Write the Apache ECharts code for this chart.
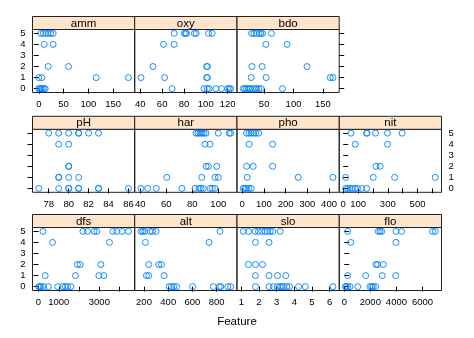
<!DOCTYPE html>
<html>
<head>
<meta charset="utf-8">
<script src="https://cdn.jsdelivr.net/npm/echarts@6/dist/echarts.min.js"></script>
<style>html,body{margin:0;padding:0;background:#fff}#c{width:474px;height:338px}</style>
</head>
<body>
<div id="c"></div>
<script>
// ---- data ----
const panelNames = ['amm','oxy','bdo','pH','har','pho','nit','dfs','alt','slo','flo'];
const yLevelTicks = [0,1,2,3,4,5];

const ammX = [4,9,14,19,24,29, 11,29, 19,60, 0,6,116,181, 0,2,4,7,10,13];
const ammY = [5,5,5,5,5,5, 4,4, 2,2, 1,1,1,1, 0,0,0,0,0,0];

const oxyX = [71,80.4,81.5,82.3,89.6,91.2,102.5,105.8, 61.3,71, 51.6,100.8,101.5, 40.6,62.2,100.8,101.5, 69.2,98.4,101.4,103.2,109.3,114.5,120,121.5,122.8];
const oxyY = [5,5,5,5,5,5,5,5, 4,4, 2,2,2, 1,1,1,1, 0,0,0,0,0,0,0,0,0];

const bdoX = [28.6,32.5,37,41.5,44.4,47.3,62.5, 52.9,89, 29.2,46.6,122.9, 28,53.4,162.5,167, 14.5,17,20,23,26,30,34,37,41,45,81.2];
const bdoY = [5,5,5,5,5,5,5, 4,4, 2,2,2, 1,1,1,1, 0,0,0,0,0,0,0,0,0,0,0];

const pHX = [78,79,80,81,81,82,83, 79,80, 80,80, 79,79,80,81, 77,79,80,80,81,81,83,83,86];
const pHY = [5,5,5,5,5,5,5, 4,4, 2,2, 1,1,1,1, 0,0,0,0,0,0,0,0,0];

const harX = [82.9,84.4,86,87.5,89,90.6,100,108.4,109.5, 89.8,93.6, 90.6,92.4,98.8, 60.4,87.3,97.5,100, 40.5,45.6,52.3,72,82.1,85.2,86.7,88.5,93.6,95.4,97.5];
const harY = [5,5,5,5,5,5,5,5,5, 4,4, 2,2,2, 1,1,1,1, 0,0,0,0,0,0,0,0,0,0,0];

const phoX = [20,31,41.5,52.5,63,75.5, 32,140, 20,50.7,140, 23,258,418, 5,11,20,31,41.5];
const phoY = [5,5,5,5,5,5, 4,4, 2,2,2, 1,1,1, 0,0,0,0,0];

const nitX = [52,157,160,218,298,396, 81,298, 220,249, 16,202,346,619, 16,30,45,61,79,97,124,158];
const nitY = [5,5,5,5,5,5, 4,4, 2,2, 1,1,1,1, 0,0,0,0,0,0,0,0];

const dfsX = [217,2187,2414,2744,2877,3665,3862,4123,4433, 690,3498, 1921,2054,3074, 330,1823,2975,3222, 14,60,130,250,490,950,1200,1320,1430,1600];
const dfsY = [5,5,5,5,5,5,5,5,5, 4,4, 2,2,2, 1,1,1,1, 0,0,0,0,0,0,0,0,0,0];

const altX = [175,190,206,250,270,300,828, 212,737, 239,322,344, 220,239,366, 407,427,446,469,601,772,822,834,892,915];
const altY = [5,5,5,5,5,5,5, 4,4, 2,2,2, 1,1,1, 0,0,0,0,0,0,0,0,0,0];

const sloX = [1.11,1.4,1.78,1.97,2.16,2.35,2.48,2.63,2.78,3.2, 1.8,2.57, 1.4,1.8,2.2, 1.8,2.57,3.05,3.52, 1.8,2.57,2.82,3.05,3.2,3.3,3.39,3.58,3.73,4.24,4.62,6.19];
const sloY = [5,5,5,5,5,5,5,5,5,5, 4,4, 2,2,2, 1,1,1,1, 0,0,0,0,0,0,0,0,0,0,0,0];

const floX = [260,2605,2736,2866,3962,4398,6774,6975, 490,3962, 2429,2560,2989, 260,1640,2912,3938, 100,130,260,440,1030,1970,2100,2220,2400];
const floY = [5,5,5,5,5,5,5,5, 4,4, 2,2,2, 1,1,1,1, 0,0,0,0,0,0,0,0,0];

// x tick values and shown labels per panel
const ammTicks = [0,50,100,150];        const ammLabels = [0,50,100,150];
const oxyTicks = [40,60,80,100,120];    const oxyLabels = [40,60,80,100,120];
const bdoTicks = [50,100,150];          const bdoLabels = [50,100,150];
const pHTicks = [78,80,82,84,86];       const pHLabels = [78,80,82,84,86];
const harTicks = [40,60,80,100];        const harLabels = [40,60,80,100];
const phoTicks = [0,100,200,300,400];   const phoLabels = [0,100,200,300,400];
const nitTicks = [0,100,200,300,400,500,600]; const nitLabels = [0,100,300,500];
const dfsTicks = [0,1000,2000,3000,4000]; const dfsLabels = [0,1000,3000];
const altTicks = [200,400,600,800];     const altLabels = [200,400,600,800];
const sloTicks = [1,2,3,4,5,6];         const sloLabels = [1,2,3,4,5,6];
const floTicks = [0,2000,4000,6000];    const floLabels = [0,2000,4000,6000];

const xLabelText = 'Feature';

// ---- build ----
const panels = [
  [ammX, ammY, ammTicks, ammLabels], [oxyX, oxyY, oxyTicks, oxyLabels], [bdoX, bdoY, bdoTicks, bdoLabels],
  [pHX, pHY, pHTicks, pHLabels], [harX, harY, harTicks, harLabels], [phoX, phoY, phoTicks, phoLabels], [nitX, nitY, nitTicks, nitLabels],
  [dfsX, dfsY, dfsTicks, dfsLabels], [altX, altY, altTicks, altLabels], [sloX, sloY, sloTicks, sloLabels], [floX, floY, floTicks, floLabels]
];
const pos = [[0,0],[0,1],[0,2],[1,0],[1,1],[1,2],[1,3],[2,0],[2,1],[2,2],[2,3]];
const colLeft = [32.5, 134.7, 237, 339.3];
const pw = 102.2;
const stripTop = [16.5, 116.3, 214.5];
const stripH = 13;
const ph = 63;
const ink = '#000';
const ptColor = '#0080ff';
const font = 'Liberation Sans, Arial, Helvetica, sans-serif';
const fmt = v => String(v);

const grid = [], xAxis = [], yAxis = [], series = [], graphic = [];
panels.forEach((p, i) => {
  const [xs, ys, ticks, labels] = p;
  const [r, c] = pos[i];
  const mn = Math.min(...xs), mx = Math.max(...xs);
  const pad = 0.07 * (mx - mn);
  const top = stripTop[r] + stripH;
  grid.push({left: colLeft[c], top: top, width: pw, height: ph, show: true,
    borderColor: '#222', borderWidth: 1, backgroundColor: 'transparent', containLabel: false});
  xAxis.push({type: 'value', gridIndex: i, min: mn - pad, max: mx + pad, position: 'bottom',
    axisLine: {show: false}, splitLine: {show: false},
    axisTick: {show: true, length: 5, lineStyle: {color: ink, width: 1}, customValues: ticks},
    axisLabel: {show: true, fontSize: 9.5, color: ink, fontFamily: font, margin: 7, customValues: labels,
      formatter: fmt, showMinLabel: true, showMaxLabel: true, hideOverlap: false}
  });
  let side = null;
  if (r === 0 && c === 0) side = 'left';
  if (r === 1 && c === 3) side = 'right';
  if (r === 2 && c === 0) side = 'left';
  let tickSide = null;
  if (r === 0 && c === 2) tickSide = 'right';
  if (r === 1 && c === 0) tickSide = 'left';
  if (r === 2 && c === 3) tickSide = 'right';
  const yIdx = yAxis.length;
  yAxis.push({type: 'value', gridIndex: i, min: -0.35, max: 5.35, position: side || tickSide || 'left',
    axisLine: {show: false}, splitLine: {show: false},
    axisTick: {show: !!(side || tickSide), length: 5, lineStyle: {color: ink, width: 1}, customValues: yLevelTicks},
    axisLabel: {show: !!side, fontSize: 9.5, color: ink, fontFamily: font, margin: 7, customValues: yLevelTicks, formatter: fmt}
  });
  const data = xs.map((x, k) => [x, ys[k]]);
  series.push({type: 'scatter', xAxisIndex: i, yAxisIndex: yIdx, data: data,
    symbol: 'circle', symbolSize: 6,
    itemStyle: {color: 'rgba(0,0,0,0)', borderColor: ptColor, borderWidth: 0.9, opacity: 1},
    emphasis: {disabled: true}, silent: true});
  graphic.push({type: 'rect', shape: {x: colLeft[c], y: stripTop[r], width: pw, height: stripH},
    style: {fill: '#ffe5cc', stroke: '#222', lineWidth: 1}});
  graphic.push({type: 'text', x: colLeft[c] + pw / 2, y: stripTop[r] + stripH / 2 + 0.5,
    style: {text: panelNames[i], fontSize: 11.5, fontFamily: font, fill: ink, align: 'center', verticalAlign: 'middle'}});
});
graphic.push({type: 'text', x: 237, y: 322,
  style: {text: xLabelText, fontSize: 11.5, fontFamily: font, fill: ink, align: 'center', verticalAlign: 'middle'}});

const chart = echarts.init(document.getElementById('c'), null, {renderer: 'canvas'});
chart.setOption({animation: false, backgroundColor: '#fff', grid, xAxis, yAxis, series, graphic});
</script>
</body>
</html>
